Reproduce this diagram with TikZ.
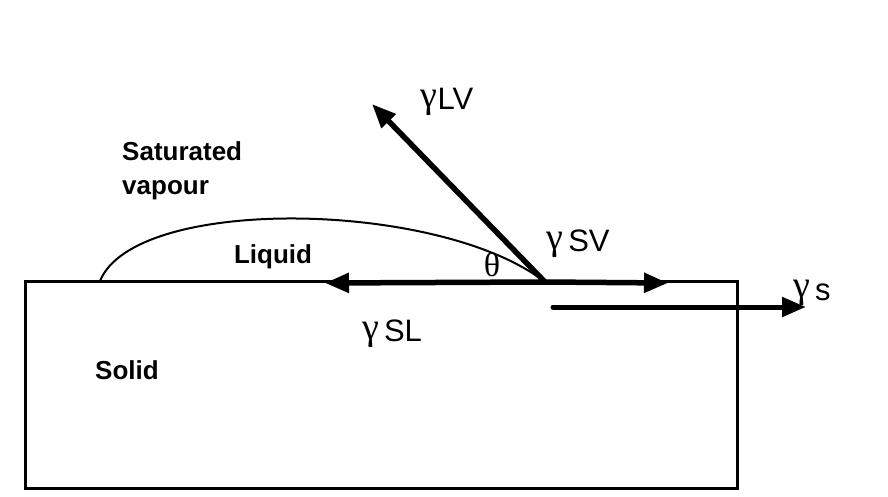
\documentclass[tikz,border=0pt]{standalone}
\usepackage{fontspec}
\setmainfont{Liberation Sans}
\newfontfamily\grk{Liberation Serif}
\usetikzlibrary{arrows.meta}
\newcommand{\gam}[1]{{\grk\fontsize{38}{40}\selectfont γ}\raisebox{-0.45ex}{\fontsize{31}{33}\selectfont #1}}
\begin{document}
\begin{tikzpicture}[x=1pt,y=-1pt,
  force/.style={line width=5.5pt,-{Triangle[length=24pt,width=19pt]}},
  lbl/.style={font=\bfseries\fontsize{26}{34}\selectfont,inner sep=0pt},
  gl/.style={inner sep=0pt}]
\useasboundingbox (0,0) rectangle (888,497);
\draw[line width=3pt] (25,281) rectangle (737,488);
\coordinate (c) at (545,282);
\coordinate (lv) at (372,104);
\coordinate (sl) at (325,283);
\coordinate (sv) at (668,283);
\coordinate (s0) at (553,307);
\coordinate (s1) at (806,307);
\draw[line width=2pt] (100,281) .. controls (135,195) and (440,200) .. (c);
\draw[force] (c) -- (lv);
\draw[force] (c) -- (sl);
\draw[force] (c) -- (sv);
\draw[force,line width=5pt,line cap=round] (s0) -- (s1);
\node[gl] (tlv) at (447,102) {\gam{LV}};
\node[gl] (tsv) at (578,244) {\gam{\,SV}};
\node[gl] (tsl) at (392,334) {\gam{\,SL}};
\node[gl] (ts) at (812,293) {\gam{\,s}};
\node[gl] (th) at (492,265) {\grk\fontsize{34}{36}\selectfont θ};
\node[lbl,align=left,anchor=west] (sv2) at (122,171) {Saturated\\vapour};
\node[lbl] (liq) at (273,257) {Liquid};
\node[lbl] (sol) at (127,370) {Solid};
\end{tikzpicture}
\end{document}
